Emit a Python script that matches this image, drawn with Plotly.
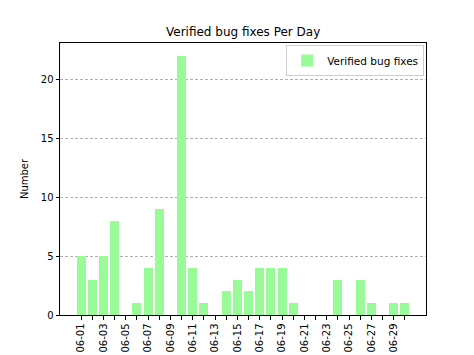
import plotly.graph_objects as go

days = [f"06-{d:02d}" for d in range(1, 31)]
values = [5, 3, 5, 8, 0, 1, 4, 9, 0, 22, 4, 1, 0, 2, 3, 2, 4, 4, 4, 1, 0, 0, 0, 3, 0, 3, 1, 0, 1, 1]
y_ticks = [0, 5, 10, 15, 20]

idx = list(range(len(days)))
ticktext = [d if i % 2 == 0 else "" for i, d in enumerate(days)]

fig = go.Figure()
fig.add_trace(go.Bar(x=idx, y=values, width=0.8, name="Verified bug fixes",
                     marker=dict(color="#98FB98", line=dict(width=0)),
                     showlegend=True))

font = "DejaVu Sans"
fig.update_layout(
    width=474, height=355,
    margin=dict(l=60, r=48, t=43, b=40),
    plot_bgcolor="white", paper_bgcolor="white",
    font=dict(family=font, size=10, color="black"),
    title=dict(text="Verified bug fixes Per Day", x=0.513, xanchor="center",
               y=1 - 32/355, yanchor="middle", font=dict(size=12, family=font)),
    legend=dict(x=0.995, xanchor="right", y=0.993, yanchor="top",
                bordercolor="#cccccc", borderwidth=1, bgcolor="rgba(255,255,255,0.8)",
                font=dict(size=10.5, family=font)),
    showlegend=True,
    bargap=0,
)
fig.update_xaxes(range=[-1.89, 30.89], tickvals=idx, ticktext=ticktext, tickangle=-90,
                 ticks="outside", ticklen=3.5, tickcolor="black", showgrid=False,
                 showline=True, linecolor="black", linewidth=1, mirror=True,
                 zeroline=False, tickfont=dict(size=10), automargin=False)
fig.update_yaxes(range=[0, 23.1], tickvals=y_ticks, ticks="outside", ticklen=3.5,
                 tickcolor="black", showgrid=True, gridcolor="#b0b0b0", griddash="3px,2px",
                 gridwidth=0.8, showline=True, linecolor="black", linewidth=1, mirror=True,
                 zeroline=False, title=dict(text="Number", font=dict(size=10), standoff=10),
                 tickfont=dict(size=10), automargin=False)

fig.write_html("out.html")
